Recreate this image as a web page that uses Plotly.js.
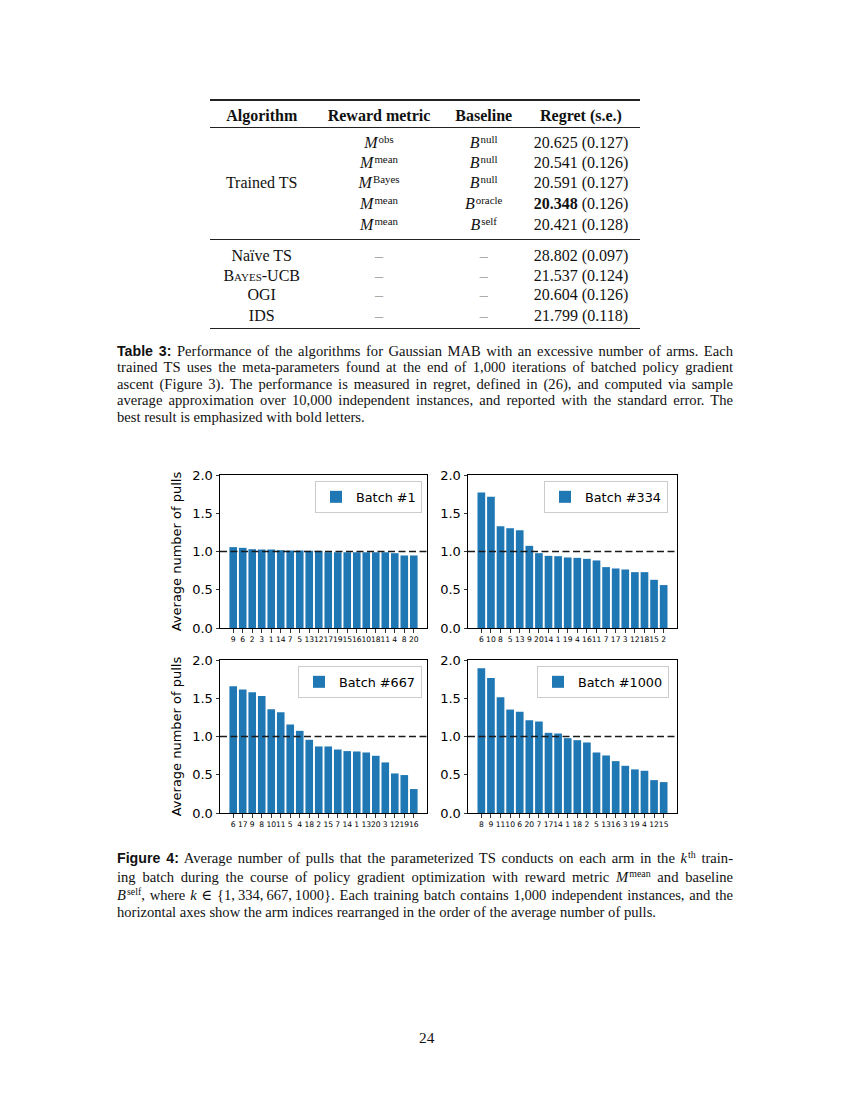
<!DOCTYPE html>
<html>
<head>
<meta charset="utf-8">
<script src="https://cdn.plot.ly/plotly-3.0.1.min.js"></script>
<style>
  html, body { margin: 0; padding: 0; background: #fff; }
  #page { position: relative; width: 850px; height: 1100px; overflow: hidden; background: #fff; }
  #chart { position: absolute; left: 0; top: 0; width: 850px; height: 1100px; }
  .t { position: absolute; font-family: "Liberation Serif", "DejaVu Serif", serif; color: #111; white-space: nowrap; z-index: 2; }
  .cell { font-size: 16px; line-height: 20px; text-align: center; width: 220px; }
  .hdr { font-weight: bold; }
  .rule { position: absolute; left: 210px; width: 430px; background: #222; z-index: 2; }
  .cap { font-size: 14.6px; line-height: 17px; width: 616px; left: 117px; text-align: justify; text-align-last: justify; white-space: normal; }
  .cap.last { text-align: left; text-align-last: left; }
  .lbl { font-family: "Liberation Sans", "DejaVu Sans", sans-serif; font-weight: bold; font-size: 14.2px; }
  sup { font-size: 0.68em; vertical-align: 0.5em; line-height: 0; margin-left: 1px; }
  .dash { color: #aaa; }
  .sc { font-variant: small-caps; }
</style>
</head>
<body>
<div id="page">
  <div id="chart"></div>

  <!-- Table 3 -->
  <div class="rule" style="top:99.3px;height:1.4px"></div>
  <div class="rule" style="top:127.2px;height:1px"></div>
  <div class="rule" style="top:238.5px;height:1px"></div>
  <div class="rule" style="top:327.5px;height:1.5px"></div>

  <div class="t cell hdr" style="left:151.7px;top:105.7px">Algorithm</div>
  <div class="t cell hdr" style="left:269px;top:105.7px">Reward metric</div>
  <div class="t cell hdr" style="left:373.7px;top:105.7px">Baseline</div>
  <div class="t cell hdr" style="left:471px;top:105.7px">Regret (s.e.)</div>

  <div class="t cell" style="left:151.7px;top:173.3px">Trained TS</div>

  <div class="t cell" style="left:269px;top:133.3px"><i>M</i><sup>obs</sup></div>
  <div class="t cell" style="left:269px;top:153.3px"><i>M</i><sup>mean</sup></div>
  <div class="t cell" style="left:269px;top:173.3px"><i>M</i><sup>Bayes</sup></div>
  <div class="t cell" style="left:269px;top:194.3px"><i>M</i><sup>mean</sup></div>
  <div class="t cell" style="left:269px;top:215px"><i>M</i><sup>mean</sup></div>

  <div class="t cell" style="left:373.7px;top:133.3px"><i>B</i><sup>null</sup></div>
  <div class="t cell" style="left:373.7px;top:153.3px"><i>B</i><sup>null</sup></div>
  <div class="t cell" style="left:373.7px;top:173.3px"><i>B</i><sup>null</sup></div>
  <div class="t cell" style="left:373.7px;top:194.3px"><i>B</i><sup>oracle</sup></div>
  <div class="t cell" style="left:373.7px;top:215px"><i>B</i><sup>self</sup></div>

  <div class="t cell" style="left:471px;top:133.3px">20.625 (0.127)</div>
  <div class="t cell" style="left:471px;top:153.3px">20.541 (0.126)</div>
  <div class="t cell" style="left:471px;top:173.3px">20.591 (0.127)</div>
  <div class="t cell" style="left:471px;top:194.3px"><b>20.348</b> (0.126)</div>
  <div class="t cell" style="left:471px;top:215px">20.421 (0.128)</div>

  <div class="t cell" style="left:151.7px;top:245.7px">Naïve TS</div>
  <div class="t cell sc" style="left:151.7px;top:265.7px">Bayes-UCB</div>
  <div class="t cell" style="left:151.7px;top:285px">OGI</div>
  <div class="t cell" style="left:151.7px;top:305.7px">IDS</div>

  <div class="t cell dash" style="left:269px;top:245.7px">–</div>
  <div class="t cell dash" style="left:269px;top:265.7px">–</div>
  <div class="t cell dash" style="left:269px;top:285px">–</div>
  <div class="t cell dash" style="left:269px;top:305.7px">–</div>
  <div class="t cell dash" style="left:373.7px;top:245.7px">–</div>
  <div class="t cell dash" style="left:373.7px;top:265.7px">–</div>
  <div class="t cell dash" style="left:373.7px;top:285px">–</div>
  <div class="t cell dash" style="left:373.7px;top:305.7px">–</div>

  <div class="t cell" style="left:471px;top:245.7px">28.802 (0.097)</div>
  <div class="t cell" style="left:471px;top:265.7px">21.537 (0.124)</div>
  <div class="t cell" style="left:471px;top:285px">20.604 (0.126)</div>
  <div class="t cell" style="left:471px;top:305.7px">21.799 (0.118)</div>

  <!-- Table 3 caption -->
  <div class="t cap" style="top:342.8px"><span class="lbl">Table 3:</span> Performance of the algorithms for Gaussian MAB with an excessive number of arms. Each</div>
  <div class="t cap" style="top:359.3px">trained TS uses the meta-parameters found at the end of 1,000 iterations of batched policy gradient</div>
  <div class="t cap" style="top:375.8px">ascent (Figure 3). The performance is measured in regret, defined in (26), and computed via sample</div>
  <div class="t cap" style="top:392.3px">average approximation over 10,000 independent instances, and reported with the standard error. The</div>
  <div class="t cap last" style="top:408.8px">best result is emphasized with bold letters.</div>

  <!-- Figure 4 caption -->
  <div class="t cap" style="top:849.8px"><span class="lbl">Figure 4:</span> Average number of pulls that the parameterized TS conducts on each arm in the <i>k</i><sup>th</sup> train-</div>
  <div class="t cap" style="top:868.8px">ing batch during the course of policy gradient optimization with reward metric <i>M</i><sup>mean</sup> and baseline</div>
  <div class="t cap" style="top:886.5px"><i>B</i><sup>self</sup>, where <i>k</i> ∈ {1,&thinsp;334,&thinsp;667,&thinsp;1000}. Each training batch contains 1,000 independent instances, and the</div>
  <div class="t cap last" style="top:904.2px">horizontal axes show the arm indices rearranged in the order of the average number of pulls.</div>

  <div class="t" style="left:406.7px;width:40px;text-align:center;top:1028px;font-size:15.3px;line-height:20px">24</div>
</div>

<script>
// ---- Data ----
const batchNames = ['Batch #1', 'Batch #334', 'Batch #667', 'Batch #1000'];

const arms1  = ['9','6','2','3','1','14','7','5','13','12','17','19','15','16','10','18','11','4','8','20'];
const pulls1 = [1.057,1.048,1.030,1.026,1.026,1.017,1.013,1.013,1.009,1.009,0.991,0.990,0.990,0.990,0.990,0.990,0.990,0.978,0.948,0.948];

const arms2  = ['6','10','8','5','13','9','20','14','1','19','4','16','11','7','17','3','12','18','15','2'];
const pulls2 = [1.770,1.717,1.330,1.304,1.278,1.074,0.978,0.943,0.939,0.922,0.917,0.904,0.883,0.796,0.778,0.765,0.730,0.730,0.630,0.561];

const arms3  = ['6','17','9','8','10','11','5','4','18','2','15','7','14','1','13','20','3','12','19','16'];
const pulls3 = [1.657,1.613,1.578,1.530,1.357,1.317,1.157,1.074,0.957,0.870,0.870,0.830,0.809,0.804,0.791,0.748,0.661,0.517,0.496,0.313];

const arms4  = ['8','9','11','10','6','20','7','17','14','1','18','2','5','13','16','3','19','4','12','15'];
const pulls4 = [1.891,1.765,1.513,1.352,1.322,1.213,1.196,1.048,1.039,0.978,0.952,0.922,0.791,0.752,0.678,0.617,0.570,0.552,0.430,0.404];

const yTicks = [0, 0.5, 1.0, 1.5, 2.0];
const yTickText = ['0.0', '0.5', '1.0', '1.5', '2.0'];
const referenceLevel = 1.0;
const yLabel = 'Average number of pulls';

// ---- Layout (page pixel geometry) ----
const W = 850, H = 1100;
const px = (a, b) => [a / W, b / W];
const py = (top, bottom) => [1 - bottom / H, 1 - top / H];

const armsAll = [arms1, arms2, arms3, arms4];
const pullsAll = [pulls1, pulls2, pulls3, pulls4];
const xDomains = [px(220, 427), px(468, 677), px(220, 427), px(468, 677)];
const yDomains = [py(475, 628), py(475, 628), py(660, 813), py(660, 813)];
const legendPos = [[422, 481], [668, 481], [422, 666], [669, 666]];

const FONT = 'DejaVu Sans, Arial, sans-serif';
const BLUE = '#1f77b4';

const traces = [];
const layout = {
  width: W, height: H,
  margin: {l: 0, r: 0, t: 0, b: 0},
  paper_bgcolor: 'rgba(0,0,0,0)',
  plot_bgcolor: '#ffffff',
  font: {family: FONT, size: 13, color: '#000'},
  bargap: 0.2,
  shapes: []
};

for (let i = 0; i < 4; i++) {
  const sfx = i === 0 ? '' : String(i + 1);
  const legName = 'legend' + sfx;
  traces.push({
    type: 'bar',
    x: armsAll[i],
    y: pullsAll[i],
    name: batchNames[i],
    xaxis: 'x' + sfx,
    yaxis: 'y' + sfx,
    legend: legName,
    marker: {color: BLUE, line: {width: 0}},
    showlegend: true,
    hoverinfo: 'x+y'
  });
  layout['xaxis' + sfx] = {
    domain: xDomains[i],
    anchor: 'y' + sfx,
    type: 'category',
    range: [-1.39, armsAll[i].length - 1 + 1.39],
    tickmode: 'linear', dtick: 1,
    tickangle: 0,
    ticks: 'outside', ticklen: 3.5, tickwidth: 0.8, tickcolor: '#000',
    tickfont: {family: FONT, size: 7.6, color: '#000'},
    showline: true, linecolor: '#000', linewidth: 1, mirror: true,
    showgrid: false, zeroline: false, fixedrange: true
  };
  layout['yaxis' + sfx] = {
    domain: yDomains[i],
    anchor: 'x' + sfx,
    range: [0, 2],
    tickmode: 'array', tickvals: yTicks, ticktext: yTickText,
    ticks: 'outside', ticklen: 3.5, tickwidth: 0.8, tickcolor: '#000',
    tickfont: {family: FONT, size: 13, color: '#000'},
    showline: true, linecolor: '#000', linewidth: 1, mirror: true,
    showgrid: false, zeroline: false, fixedrange: true
  };
  if (i === 0 || i === 2) {
    layout['yaxis' + sfx].title = {text: yLabel, font: {family: FONT, size: 13, color: '#000'}, standoff: 7};
  }
  layout[legName] = {
    x: legendPos[i][0] / W, xanchor: 'right', xref: 'paper',
    y: 1 - legendPos[i][1] / H, yanchor: 'top', yref: 'paper',
    bgcolor: 'rgba(255,255,255,0.85)', bordercolor: '#cccccc', borderwidth: 1,
    font: {family: FONT, size: 12.8, color: '#000'},
    itemwidth: 30
  };
  layout.shapes.push({
    type: 'line', xref: 'x' + sfx + ' domain', yref: 'y' + sfx,
    x0: 0, x1: 1, y0: referenceLevel, y1: referenceLevel,
    line: {color: '#1a1a1a', width: 1.5, dash: '7px,3.5px'},
    layer: 'above'
  });
}

Plotly.newPlot('chart', traces, layout, {displayModeBar: false, staticPlot: true});
</script>
</body>
</html>
